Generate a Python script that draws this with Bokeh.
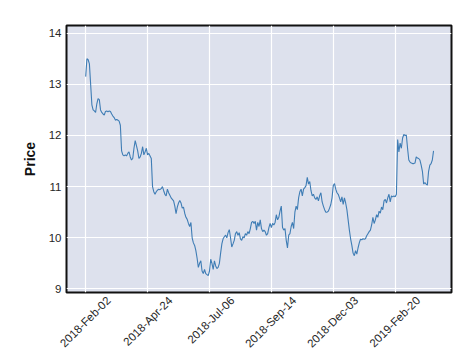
import math
from bokeh.plotting import figure
from bokeh.models import FixedTicker, Range1d, Title
from bokeh.embed import file_html
from bokeh.resources import INLINE

# closing price per trading day (index 0 = 2018-Feb-02)
price = [
    13.15, 13.50, 13.48, 13.40, 13.00, 12.60, 12.50, 12.48, 12.45, 12.62,
    12.72, 12.70, 12.50, 12.45, 12.42, 12.40, 12.47, 12.48, 12.46, 12.48,
    12.47, 12.42, 12.38, 12.35, 12.30, 12.31, 12.30, 12.28, 12.20, 11.70,
    11.62, 11.60, 11.62, 11.60, 11.65, 11.68, 11.58, 11.52, 11.55, 11.75,
    11.90, 11.80, 11.70, 11.55, 11.58, 11.65, 11.78, 11.62, 11.68, 11.75,
    11.62, 11.65, 11.60, 11.55, 11.00, 10.90, 10.85, 10.90, 10.93, 10.95,
    10.94, 10.96, 11.00, 10.92, 10.85, 10.82, 10.95, 10.88, 10.83, 10.78,
    10.75, 10.72, 10.62, 10.47, 10.60, 10.68, 10.73, 10.68, 10.58, 10.60,
    10.48, 10.40, 10.36, 10.28, 10.22, 10.30, 10.00, 9.90, 9.85, 9.75,
    9.60, 9.42, 9.50, 9.55, 9.35, 9.30, 9.38, 9.30, 9.28, 9.26,
    9.35, 9.58, 9.50, 9.38, 9.55, 9.45, 9.40, 9.42, 9.50, 9.70,
    9.88, 9.98, 10.02, 10.05, 10.00, 10.10, 10.16, 10.00, 9.82, 9.88,
    9.95, 10.08, 10.12, 10.05, 10.10, 9.98, 9.95, 10.02, 10.00, 10.08,
    10.05, 10.12, 10.08, 10.18, 10.30, 10.32, 10.28, 10.32, 10.15, 10.30,
    10.22, 10.35, 10.18, 10.12, 10.15, 10.12, 10.05, 10.08, 10.20, 10.28,
    10.20, 10.28, 10.25, 10.30, 10.45, 10.35, 10.40, 10.52, 10.62, 10.20,
    10.15, 10.18, 9.95, 9.80, 10.05, 10.08, 10.22, 10.30, 10.18, 10.50,
    10.62, 10.55, 10.78, 10.90, 10.95, 10.82, 10.95, 10.98, 11.02, 11.18,
    11.05, 11.10, 10.92, 10.82, 10.85, 10.78, 10.75, 10.80, 10.72, 10.82,
    10.88, 10.70, 10.62, 10.55, 10.50, 10.50, 10.52, 10.58, 10.65, 10.78,
    11.02, 11.06, 10.95, 10.88, 10.85, 10.78, 10.70, 10.80, 10.65, 10.78,
    10.68, 10.55, 10.35, 10.15, 9.98, 9.85, 9.70, 9.65, 9.75, 9.68,
    9.80, 9.90, 9.97, 9.96, 9.98, 9.97, 9.98, 10.04, 10.08, 10.12,
    10.15, 10.25, 10.40, 10.28, 10.35, 10.45, 10.40, 10.52, 10.48, 10.60,
    10.55, 10.72, 10.75, 10.68, 10.78, 10.85, 10.70, 10.82, 10.80, 10.82,
    10.80, 10.85, 11.92, 11.68, 11.85, 11.75, 11.95, 12.02, 12.00, 12.01,
    11.75, 11.52, 11.48, 11.46, 11.45, 11.45, 11.46, 11.58, 11.56, 11.55,
    11.52, 11.42, 11.30, 11.05, 11.08, 11.05, 11.03, 11.30, 11.42, 11.45,
    11.52, 11.70,
]
day_index = list(range(len(price)))

tick_positions = [0, 50, 100, 150, 200, 250]
tick_labels = ["2018-Feb-02", "2018-Apr-24", "2018-Jul-06",
               "2018-Sep-14", "2018-Dec-03", "2019-Feb-20"]
y_ticks = [9, 10, 11, 12, 13, 14]
watermark = "CSDN @My.ICBM"

# rotated labels are anchored at their end; move the anchor so that each
# label's box is centred on its date, as in the reference
label_shift = 18.5
label_positions = [t + label_shift for t in tick_positions]

p = figure(width=474, height=357, output_backend="svg", toolbar_location=None,
           x_range=Range1d(-15.5, 295.5), y_range=Range1d(8.93, 14.15),
           min_border_left=66, min_border_right=23, min_border_top=25,
           min_border_bottom=64)
p.background_fill_color = "#dde1ed"
p.border_fill_color = "white"
p.outline_line_color = "#111111"
p.outline_line_width = 2

p.line(day_index, price, line_color="#3f7db5", line_width=1.1)

p.xaxis.ticker = FixedTicker(ticks=label_positions)
p.xaxis.major_label_overrides = {t: l for t, l in zip(label_positions, tick_labels)}
p.xaxis.major_label_orientation = math.pi / 4
p.xgrid.ticker = FixedTicker(ticks=tick_positions)
p.yaxis.ticker = FixedTicker(ticks=y_ticks)
p.yaxis.axis_label = "Price"

for ax in p.axis:
    ax.axis_line_color = None
    ax.major_tick_line_color = None
    ax.minor_tick_line_color = None
    ax.major_tick_out = 0
    ax.major_tick_in = 0
    ax.minor_tick_out = 0
    ax.minor_tick_in = 0
    ax.major_label_text_font = "Liberation Sans"
    ax.major_label_text_font_size = "11.5px"
    ax.major_label_text_color = "#262626"
p.yaxis.major_label_standoff = 5
p.xaxis.major_label_standoff = 6
p.yaxis.axis_label_text_font = "Liberation Sans"
p.yaxis.axis_label_text_font_size = "14px"
p.yaxis.axis_label_text_font_style = "bold"
p.yaxis.axis_label_text_color = "#111111"
p.yaxis.axis_label_standoff = 8

p.grid.grid_line_color = "white"
p.grid.grid_line_width = 1.2

# watermark: a right-aligned title under the bottom axis, pulled up into the margin
p.add_layout(Title(text=watermark, align="right", offset=17, standoff=-24,
                   text_font="Liberation Sans", text_font_size="9.5px",
                   text_font_style="normal", text_color="#a8a8a8"), "below")

open("out.html", "w").write(file_html(p, INLINE))
